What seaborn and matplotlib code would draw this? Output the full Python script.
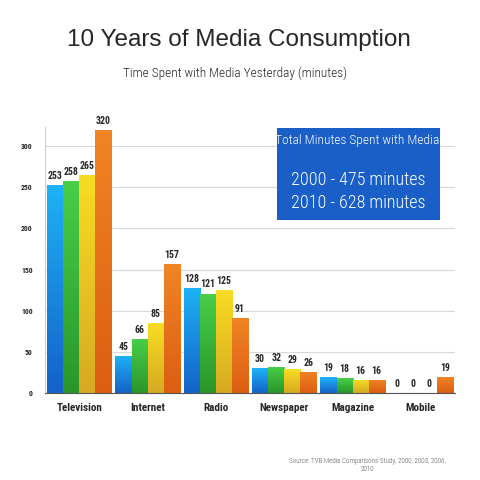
import numpy as np
import pandas as pd
import matplotlib.pyplot as plt
from matplotlib.colors import LinearSegmentedColormap
import seaborn as sns

# data
media = ['Television', 'Internet', 'Radio', 'Newspaper', 'Magazine', 'Mobile']
years = ['2000', '2003', '2006', '2010']
minutes_2000 = [253, 45, 128, 30, 19, 0]
minutes_2003 = [258, 66, 121, 32, 18, 0]
minutes_2006 = [265, 85, 125, 29, 16, 0]
minutes_2010 = [320, 157, 91, 26, 16, 19]
colors = ['#1a8fe6', '#33b233', '#eecb1e', '#e8701a']
# bottom -> top shades for the bar gradients
shades = [('#1462c8', '#1eb2f6'), ('#2a962a', '#48cf48'),
          ('#d6aa22', '#f8dc22'), ('#dc5e12', '#f08424')]

rows = []
for yr, vals in zip(years, [minutes_2000, minutes_2003, minutes_2006, minutes_2010]):
    for m, v in zip(media, vals):
        rows.append({'media': m, 'year': yr, 'minutes': v})
df = pd.DataFrame(rows)

sns.set_style('white')
plt.rcParams['font.family'] = ['Roboto Condensed', 'DejaVu Sans']

fig = plt.figure(figsize=(4.8, 4.8), dpi=100)
ax = fig.add_axes([0.094, 0.181, 0.854, 0.554])

sns.barplot(data=df, x='media', y='minutes', hue='year', palette=colors,
            width=0.94, gap=0, legend=False, ax=ax, saturation=1)
xlim = ax.get_xlim()

# vertical gradient inside each bar
grad = np.linspace(0, 1, 64).reshape(-1, 1)
for c, (lo, hi) in zip(ax.containers, shades):
    cmap = LinearSegmentedColormap.from_list('g', [lo, hi])
    for bar in c:
        h = bar.get_height()
        if h <= 0:
            continue
        im = ax.imshow(grad, extent=[bar.get_x(), bar.get_x() + bar.get_width(), 0, h],
                       origin='lower', aspect='auto', cmap=cmap, zorder=bar.get_zorder())
        im.set_clip_path(bar)
    ax.bar_label(c, fmt='%d', padding=3, fontsize=7, fontweight='bold')

ax.set_xlim(xlim)
ax.set_ylim(0, 323)
ax.set_yticks(range(0, 301, 50))
ax.yaxis.grid(True, color='#d8d8d8', lw=0.8)
ax.set_axisbelow(True)
ax.set_xlabel('')
ax.set_ylabel('')
ax.tick_params(axis='y', labelsize=5.5, length=0, pad=9)
ax.tick_params(axis='x', labelsize=8, length=0, pad=7)
for lbl in ax.get_xticklabels() + ax.get_yticklabels():
    lbl.set_fontweight('bold')
for s in ['top', 'right']:
    ax.spines[s].set_visible(False)
ax.spines['left'].set_color('#cccccc')
ax.spines['bottom'].set_color('#555555')

# titles
fig.text(0.498, 0.916, '10 Years of Media Consumption', ha='center', va='center',
         fontsize=17.5, family=['Liberation Sans', 'DejaVu Sans'])
fig.text(0.49, 0.848, 'Time Spent with Media Yesterday (minutes)', ha='center', va='center',
         fontsize=9.5, fontweight='light')

# totals box
box = plt.Rectangle((0.577, 0.542), 0.34, 0.192, transform=fig.transFigure,
                    facecolor='#1a5fc8', edgecolor='none', zorder=5)
fig.patches.append(box)
fig.text(0.747, 0.708, 'Total Minutes Spent with Media:', ha='center', va='center',
         fontsize=9.6, fontweight='light', color='white', zorder=6)
fig.text(0.747, 0.625, '2000 - 475 minutes', ha='center', va='center',
         fontsize=13, fontweight='light', color='white', zorder=6)
fig.text(0.747, 0.577, '2010 - 628 minutes', ha='center', va='center',
         fontsize=13, fontweight='light', color='white', zorder=6)

fig.text(0.765, 0.03, 'Source: TVB Media Comparisons Study, 2000, 2003, 2006,\n2010',
         ha='center', va='center', fontsize=5, fontweight='light', color='#555555', linespacing=1.3)

fig.savefig('out.png', dpi=100)
